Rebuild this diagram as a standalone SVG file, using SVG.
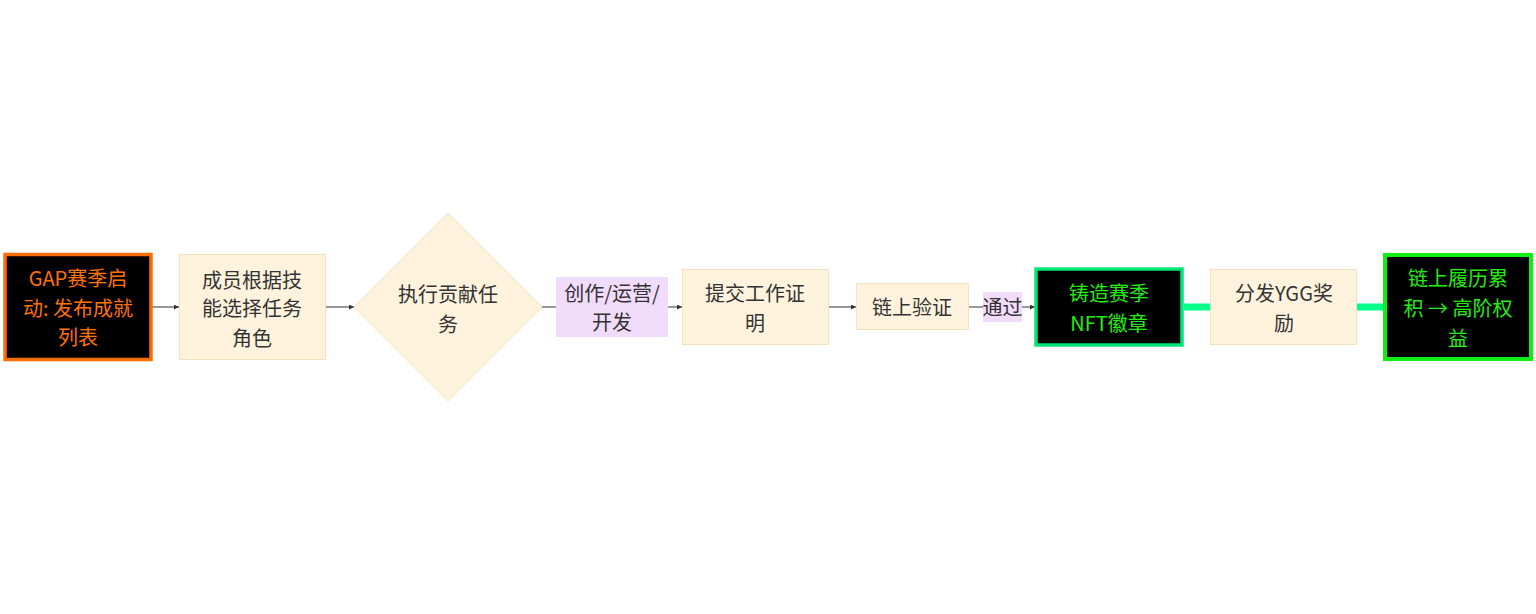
<svg xmlns="http://www.w3.org/2000/svg" width="1536" height="614" viewBox="0 0 1536 614">
<style>
text{font-family:"Noto Sans CJK SC","Noto Sans",sans-serif;font-size:20px;text-anchor:middle;dominant-baseline:central;fill:#333}
.n{fill:#fff3de;stroke:#f2e2c0;stroke-width:1}
.lbl{fill:#f2dcfc}
.e{stroke:#333;stroke-width:1;fill:none}
.thick{stroke:#00ff88;stroke-width:7;fill:none}
.or{fill:#ff7200}
.gr{fill:#22ee11}
</style>
<defs>
<marker id="ah" viewBox="0 0 10 10" refX="10" refY="5" markerWidth="5" markerHeight="5" orient="auto"><path d="M0,0 L10,5 L0,10 z" fill="#333"/></marker>
</defs>
<rect width="1536" height="614" fill="#fff"/>
<g id="edges">
<path class="e" d="M152,307 H179" marker-end="url(#ah)"/>
<path class="e" d="M325,307 H354" marker-end="url(#ah)"/>
<path class="e" d="M542,307 H682" marker-end="url(#ah)"/>
<path class="e" d="M829,307 H856" marker-end="url(#ah)"/>
<path class="e" d="M969,307 H1035" marker-end="url(#ah)"/>
<path class="thick" d="M1184,307 H1210"/>
<path class="thick" d="M1357,307 H1385"/>
<rect class="lbl" x="556" y="277" width="112" height="60"/>
<text x="612" y="292">创作/运营/</text>
<text x="612" y="321">开发</text>
<rect class="lbl" x="983" y="292" width="39" height="30"/>
<text x="1002.5" y="306">通过</text>
</g>
<g id="n1">
<rect x="5" y="254.5" width="146" height="105" fill="#000" stroke="#ff6d00" stroke-width="3.5"/>
<text class="or" x="78" y="277">GAP赛季启</text>
<text class="or" x="78" y="307">动: 发布成就</text>
<text class="or" x="78" y="336">列表</text>
</g>
<g id="n2">
<rect class="n" x="179.5" y="254.5" width="146" height="105"/>
<text x="252" y="279">成员根据技</text>
<text x="252" y="307">能选择任务</text>
<text x="252" y="337">角色</text>
</g>
<g id="n3">
<polygon class="n" points="448,213 542,307 448,401 354,307"/>
<text x="448" y="293">执行贡献任</text>
<text x="448" y="323">务</text>
</g>
<g id="n4">
<rect class="n" x="682.5" y="269.5" width="146" height="75"/>
<text x="755" y="292">提交工作证</text>
<text x="755" y="322">明</text>
</g>
<g id="n5">
<rect class="n" x="856.5" y="283.5" width="112" height="46"/>
<text x="912" y="306">链上验证</text>
</g>
<g id="n6">
<rect x="1036" y="269" width="146" height="76" fill="#000" stroke="#00e676" stroke-width="3.5"/>
<text class="gr" x="1109" y="292">铸造赛季</text>
<text class="gr" x="1109" y="322">NFT徽章</text>
</g>
<g id="n7">
<rect class="n" x="1210.5" y="269.5" width="146" height="75"/>
<text x="1284" y="292">分发YGG奖</text>
<text x="1284" y="322">励</text>
</g>
<g id="n8">
<rect x="1385" y="255" width="146" height="104" fill="#000" stroke="#11ee11" stroke-width="4"/>
<text class="gr" x="1458" y="277">链上履历累</text>
<text class="gr" x="1458" y="307">积 → 高阶权</text>
<text class="gr" x="1458" y="337">益</text>
</g>
</svg>
